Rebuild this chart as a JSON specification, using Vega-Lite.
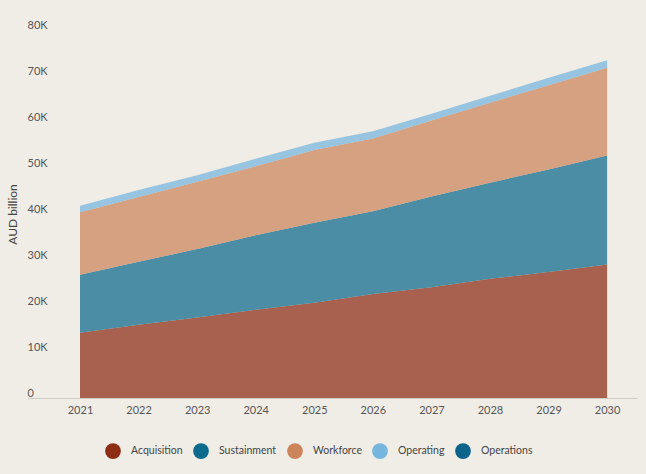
{
  "$schema": "https://vega.github.io/schema/vega-lite/v6.json",
  "width": 610,
  "height": 368,
  "autosize": {"type": "none"},
  "padding": {"left": 27, "top": 30, "right": 9, "bottom": 76},
  "background": "#f0ede7",
  "config": {
    "view": {"stroke": null},
    "font": "Lato",
    "axis": {"labelFont": "Lato", "titleFont": "Lato", "labelColor": "#555555", "titleColor": "#444444", "grid": false}
  },
  "data": {
    "values": [
      {"year": 2021, "c": "Acquisition", "v": 14200}, {"year": 2022, "c": "Acquisition", "v": 15900}, {"year": 2023, "c": "Acquisition", "v": 17500}, {"year": 2024, "c": "Acquisition", "v": 19200}, {"year": 2025, "c": "Acquisition", "v": 20700}, {"year": 2026, "c": "Acquisition", "v": 22600}, {"year": 2027, "c": "Acquisition", "v": 24100}, {"year": 2028, "c": "Acquisition", "v": 25900}, {"year": 2029, "c": "Acquisition", "v": 27400}, {"year": 2030, "c": "Acquisition", "v": 29000},
      {"year": 2021, "c": "Sustainment", "v": 12600}, {"year": 2022, "c": "Sustainment", "v": 13700}, {"year": 2023, "c": "Sustainment", "v": 14900}, {"year": 2024, "c": "Sustainment", "v": 16200}, {"year": 2025, "c": "Sustainment", "v": 17400}, {"year": 2026, "c": "Sustainment", "v": 18000}, {"year": 2027, "c": "Sustainment", "v": 19700}, {"year": 2028, "c": "Sustainment", "v": 20900}, {"year": 2029, "c": "Sustainment", "v": 22300}, {"year": 2030, "c": "Sustainment", "v": 23700},
      {"year": 2021, "c": "Workforce", "v": 13600}, {"year": 2022, "c": "Workforce", "v": 14100}, {"year": 2023, "c": "Workforce", "v": 14600}, {"year": 2024, "c": "Workforce", "v": 15000}, {"year": 2025, "c": "Workforce", "v": 15800}, {"year": 2026, "c": "Workforce", "v": 15800}, {"year": 2027, "c": "Workforce", "v": 16500}, {"year": 2028, "c": "Workforce", "v": 17400}, {"year": 2029, "c": "Workforce", "v": 18300}, {"year": 2030, "c": "Workforce", "v": 19100},
      {"year": 2021, "c": "Operating", "v": 1400}, {"year": 2022, "c": "Operating", "v": 1500}, {"year": 2023, "c": "Operating", "v": 1400}, {"year": 2024, "c": "Operating", "v": 1600}, {"year": 2025, "c": "Operating", "v": 1600}, {"year": 2026, "c": "Operating", "v": 1600}, {"year": 2027, "c": "Operating", "v": 1500}, {"year": 2028, "c": "Operating", "v": 1500}, {"year": 2029, "c": "Operating", "v": 1600}, {"year": 2030, "c": "Operating", "v": 1600},
      {"year": 2021, "c": "Operations", "v": 0}, {"year": 2022, "c": "Operations", "v": 0}, {"year": 2023, "c": "Operations", "v": 0}, {"year": 2024, "c": "Operations", "v": 0}, {"year": 2025, "c": "Operations", "v": 0}, {"year": 2026, "c": "Operations", "v": 0}, {"year": 2027, "c": "Operations", "v": 0}, {"year": 2028, "c": "Operations", "v": 0}, {"year": 2029, "c": "Operations", "v": 0}, {"year": 2030, "c": "Operations", "v": 0}
    ]
  },
  "transform": [
    {"calculate": "indexof(['Acquisition','Sustainment','Workforce','Operating','Operations'], datum.c)", "as": "k"}
  ],
  "mark": {"type": "area", "fillOpacity": 0.73},
  "encoding": {
    "x": {
      "field": "year", "type": "quantitative",
      "scale": {"domain": [2020.095, 2030.51], "nice": false, "zero": false},
      "axis": {
        "title": null, "values": [2021, 2022, 2023, 2024, 2025, 2026, 2027, 2028, 2029, 2030],
        "format": "d", "ticks": false, "labelPadding": 6, "labelFontSize": 11, "labelFlush": false,
        "domainColor": "#cfcbc4", "domainWidth": 1
      }
    },
    "y": {
      "field": "v", "type": "quantitative", "stack": "zero",
      "scale": {"domain": [0, 80000], "nice": false},
      "axis": {
        "title": "AUD billion", "titleFontSize": 12, "titleFontWeight": "normal", "titleX": -15, "titleBaseline": "middle",
        "values": [0, 10000, 20000, 30000, 40000, 50000, 60000, 70000, 80000],
        "labelExpr": "datum.value == 0 ? '0' : (datum.value / 1000) + 'K'",
        "domain": false, "ticks": false, "tickSize": 0, "labelPadding": 0, "labelAlign": "left", "labelBaseline": "bottom", "labelFontSize": 11
      }
    },
    "color": {
      "field": "c", "type": "nominal",
      "scale": {
        "domain": ["Acquisition", "Sustainment", "Workforce", "Operating", "Operations"],
        "range": ["#8c2d14", "#0c6a8c", "#cc855a", "#75b5de", "#0c648a"]
      },
      "legend": {
        "title": null, "orient": "none", "legendX": 78, "legendY": 413, "direction": "horizontal",
        "symbolType": "circle", "symbolSize": 250, "symbolOpacity": 1, "symbolStrokeWidth": 0,
        "labelFont": "Lato", "labelFontSize": 10.5, "labelColor": "#444444", "labelOffset": 10, "columnPadding": 10
      }
    },
    "order": {"field": "k", "type": "quantitative"}
  }
}
